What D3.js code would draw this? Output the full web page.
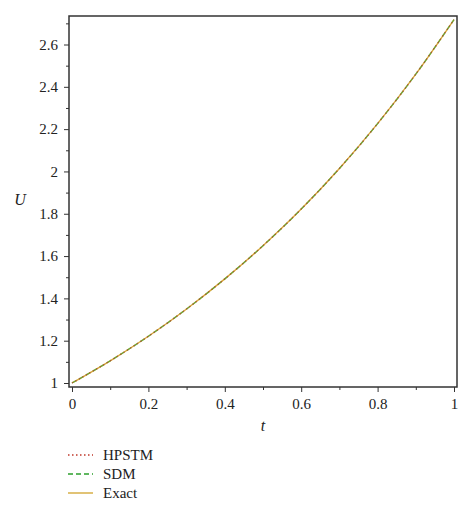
<!DOCTYPE html>
<html><head><meta charset="utf-8">
<script src="https://cdn.jsdelivr.net/npm/d3@7"></script>
<style>body{margin:0;background:#fff}text{font-family:"Liberation Serif",serif;fill:#222}</style>
</head><body><svg id="c" width="474" height="519"></svg>
<script>
const tVals=[0,0.1,0.2,0.3,0.4,0.5,0.6,0.7,0.8,0.9,1];
const exactU=[1,1.105,1.221,1.35,1.492,1.649,1.822,2.014,2.226,2.46,2.718];
const hpstmU=[1,1.105,1.221,1.35,1.492,1.649,1.822,2.014,2.226,2.46,2.718];
const sdmU=[1,1.105,1.221,1.35,1.492,1.649,1.822,2.014,2.226,2.46,2.718];
const xTicks=[0,0.2,0.4,0.6,0.8,1];
const yTicks=[1,1.2,1.4,1.6,1.8,2,2.2,2.4,2.6];
const svg=d3.select("#c");
const x=d3.scaleLinear().domain([0,1]).range([72,454]);
const y=d3.scaleLinear().domain([1,2.6]).range([383,44.5]);
const L=69,R=457,T=16,B=387;
svg.append("rect").attr("x",L).attr("y",T).attr("width",R-L).attr("height",B-T).attr("fill","none").attr("stroke","#333").attr("stroke-width",1.5);
const ga=svg.append("g").attr("transform",`translate(0,${B})`).call(d3.axisBottom(x).tickValues(xTicks).tickFormat(d3.format("")).tickSize(5).tickPadding(6));
const gm=svg.append("g").attr("transform",`translate(0,${B})`).call(d3.axisBottom(x).tickValues(d3.range(0.1,1,0.2)).tickFormat("").tickSize(3));
const gy=svg.append("g").attr("transform",`translate(${L},0)`).call(d3.axisLeft(y).tickValues(yTicks).tickFormat(d3.format("")).tickSize(5).tickPadding(6));
const gym=svg.append("g").attr("transform",`translate(${L},0)`).call(d3.axisLeft(y).tickValues(d3.range(1.1,2.75,0.2)).tickFormat("").tickSize(3));
[ga,gm,gy,gym].forEach(g=>{g.attr("font-size",null).attr("font-family",null);g.select(".domain").remove();g.selectAll("line").attr("stroke","#333");g.selectAll("text").style("font-size","15px").style("font-family","Liberation Serif").style("fill","#222");});
svg.append("text").attr("x",263).attr("y",431).attr("text-anchor","middle").style("font-size","16px").attr("font-style","italic").text("t");
svg.append("text").attr("x",20).attr("y",205).attr("text-anchor","middle").style("font-size","16px").attr("font-style","italic").text("U");
const line=d3.line().x((d,i)=>x(tVals[i])).y(d=>y(d)).curve(d3.curveMonotoneX);
const series=[{n:"HPSTM",v:hpstmU,c:"#c0392b",d:"1.5,2.5"},{n:"SDM",v:sdmU,c:"#2ca02c",d:"5,3"},{n:"Exact",v:exactU,c:"#d4aa3a",d:null}];
[series[2],series[1],series[0]].forEach(s=>{
 svg.append("path").attr("d",line(s.v)).attr("fill","none").attr("stroke",s.c).attr("stroke-width",1.4).attr("stroke-dasharray",s.d).attr("opacity",s.n==="Exact"?1:0.6);
});
series.forEach((s,i)=>{
 const yy=455+i*19;
 svg.append("line").attr("x1",68).attr("x2",93).attr("y1",yy).attr("y2",yy).attr("stroke",s.c).attr("stroke-width",1.4).attr("stroke-dasharray",s.d);
 svg.append("text").attr("x",103).attr("y",yy+5).style("font-size","15px").text(s.n);
});
</script></body></html>
